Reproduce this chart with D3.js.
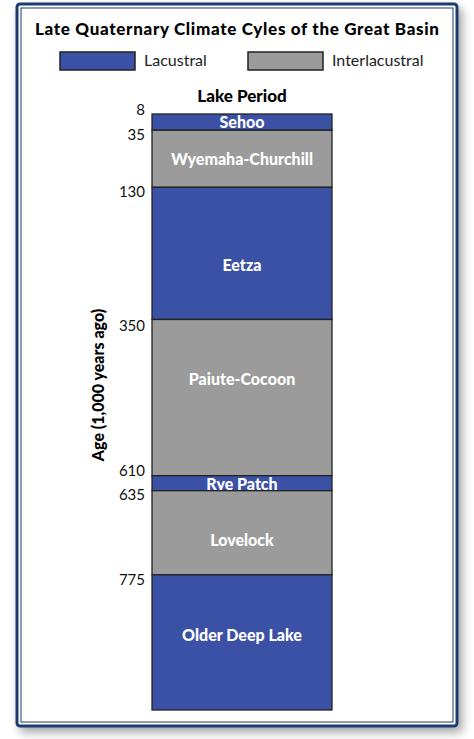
<!DOCTYPE html><html><head><meta charset="utf-8"><script src="https://cdn.jsdelivr.net/npm/d3@7"></script>
<style>body{margin:0;background:#fff}</style></head><body><svg id="c" width="474" height="739"></svg>
<script>
const periods=["Sehoo","Wyemaha-Churchill","Eetza","Paiute-Cocoon","Rye Patch","Lovelock","Older Deep Lake"];
const starts=[8,35,130,350,610,635,775];
const ends=[35,130,350,610,635,775,1000];
const types=["Lacustral","Interlacustral","Lacustral","Interlacustral","Lacustral","Interlacustral","Lacustral"];
const tickLabels=[8,35,130,350,610,635,775];
const legendItems=["Lacustral","Interlacustral"];
const col={Lacustral:"#3a51a6",Interlacustral:"#9b9b9b"};
const svg=d3.select("#c");
const f="Lato, 'Open Sans', sans-serif";
const defs=svg.append("defs");
const fl=defs.append("filter").attr("id","sh").attr("x","-10%").attr("y","-10%").attr("width","130%").attr("height","130%");
fl.append("feDropShadow").attr("dx",4).attr("dy",5).attr("stdDeviation",5).attr("flood-color","#000").attr("flood-opacity",0.35);
svg.append("rect").attr("x",17).attr("y",4).attr("width",440).attr("height",722).attr("rx",3).attr("fill","#fff").attr("stroke","#1d3a6e").attr("stroke-width",3).attr("filter","url(#sh)");
svg.append("rect").attr("x",21).attr("y",8).attr("width",432).attr("height",714).attr("fill","none").attr("stroke","#1d3a6e").attr("stroke-width",1);
svg.append("text").attr("x",237).attr("y",35).attr("text-anchor","middle").attr("font-family",f).attr("font-weight","900").attr("font-size",17).attr("textLength",404).text("Late Quaternary Climate Cyles of the Great Basin");
const lx=d3.scaleOrdinal().domain(legendItems).range([60,248]);
legendItems.forEach(k=>{
 svg.append("rect").attr("x",lx(k)).attr("y",52).attr("width",75).attr("height",18).attr("fill",col[k]).attr("stroke","#222").attr("stroke-width",1.5);
 svg.append("text").attr("x",lx(k)+84).attr("y",66).attr("font-family",f).attr("font-size",16).attr("fill","#222").text(k);
});
svg.append("text").attr("x",242).attr("y",102).attr("text-anchor","middle").attr("font-family",f).attr("font-weight","900").attr("font-size",17).text("Lake Period");
const y=d3.scaleLinear().domain([8,1000]).range([114,710]);
const x0=152,w=180;
const labelY=[122,159,265,379,484,540,635];
const g=svg.append("g");
periods.forEach((p,i)=>{
 g.append("rect").attr("x",x0).attr("y",y(starts[i])).attr("width",w).attr("height",y(ends[i])-y(starts[i])).attr("fill",col[types[i]]).attr("stroke","#222").attr("stroke-width",1.3);
 g.append("text").attr("x",x0+w/2).attr("y",labelY[i]+6).attr("text-anchor","middle").attr("font-family",f).attr("font-weight","900").attr("font-size",16).attr("fill","#fff").text(p);
});
const shift={8:-4,35:4,130:4,350:6,610:-5,635:4,775:5};
const ax=svg.append("g").attr("transform",`translate(${x0-5},0)`).call(d3.axisLeft(y).tickValues(tickLabels).tickSize(0).tickPadding(2));
ax.select(".domain").remove();
ax.selectAll("text").attr("font-family",f).attr("font-size",15).attr("fill","#111").attr("y",d=>shift[d]);
svg.append("text").attr("transform","translate(104,385) rotate(-90)").attr("text-anchor","middle").attr("font-family",f).attr("font-weight","900").attr("font-size",16).text("Age (1,000 years ago)");
</script></body></html>
